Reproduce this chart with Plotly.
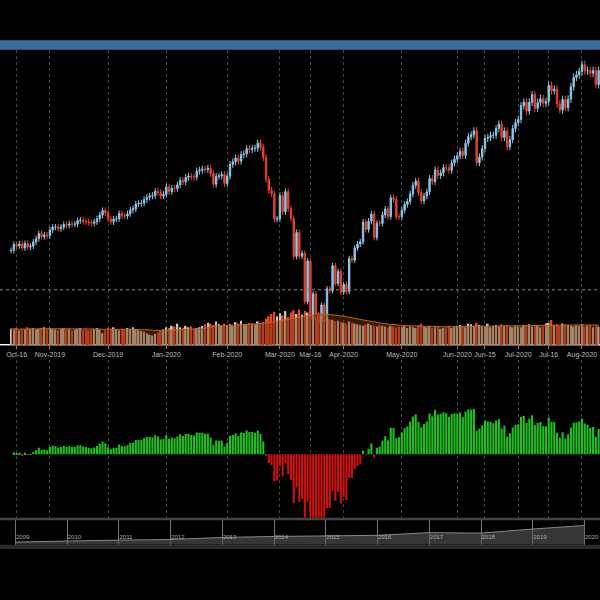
import plotly.graph_objects as go
import pandas as pd
import numpy as np

closes = [8048,8148,8124,8156,8089,8163,8104,8119,8186,8243,8325,8276,8303,8292,
8386,8433,8434,8410,8434,8475,8464,8486,8479,8482,8540,8550,8526,8520,8506,8496,8520,8570,8632,8705,8665,
8567,8520,8566,8570,8656,8621,8616,8654,8717,8734,8814,8823,8827,8887,8924,8945,8952,9022,9006,8945,8973,
9092,9020,9071,9068,9129,9203,9178,9251,9273,9259,9258,9357,9370,9389,9383,9402,9314,9139,9269,9275,9298,9150,
9273,9467,9508,9572,9520,9628,9638,9725,9711,9731,9732,9817,9750,9576,9221,9035,8980,8566,8567,
8952,8684,9018,8738,8575,7950,8344,7952,8003,7201,7875,6904,7334,6989,6879,7150,6860,7417,7384,7797,7502,7700,
7360,7487,7373,7913,7887,8090,8153,8192,8516,8393,8532,8650,8263,8495,8494,8634,8730,8607,8914,8889,8605,
8604,8710,8809,8854,8979,9121,9192,9002,8863,8943,9014,9234,9185,9375,9284,9324,9413,9412,9368,9489,
9552,9608,9682,9616,9814,9924,9953,10020,9493,9588,9726,9895,9910,9943,9946,10056,10131,9909,10017,9757,9874,10058,
10154,10207,10433,10492,10344,10492,10617,10390,10488,10550,10473,10503,10767,10680,10706,10461,10364,10536,10402,10542,10745,
10902,10941,10998,11108,11010,11011,10968,11012,10782,11012]

volumes = [2.2,2.1,2.3,2.0,2.2,2.1,2.4,2.2,2.3,2.1,2.2,2.3,2.4,2.2,
2.3,2.2,2.1,2.0,2.2,2.3,2.1,2.2,2.0,2.1,2.2,2.3,2.1,2.2,2.0,2.1,2.2,2.3,2.1,1.6,2.0,
2.3,2.2,2.4,2.1,2.0,2.2,2.1,2.3,2.2,2.4,2.1,2.0,1.9,1.8,1.6,1.4,1.3,1.5,1.7,2.0,2.1,
2.4,2.3,2.6,2.5,2.9,2.4,2.3,2.6,2.4,2.5,2.2,2.3,2.4,2.6,2.8,3.0,2.9,2.7,3.2,2.8,2.6,2.9,
2.7,2.8,2.6,3.1,2.9,3.3,2.8,2.7,3.0,2.9,2.8,3.2,3.0,3.1,3.6,3.9,4.2,4.5,3.9,
4.3,4.0,4.6,3.8,4.4,4.7,4.2,4.8,4.1,4.6,4.4,4.2,4.0,3.8,4.1,3.9,3.6,3.7,3.5,3.4,3.2,3.3,
3.1,3.0,2.9,3.2,3.0,2.9,2.8,2.7,2.6,2.8,2.9,2.7,2.6,2.5,2.7,2.6,2.5,2.4,2.6,2.5,2.4,
2.5,2.4,2.6,2.3,2.5,2.4,2.3,2.7,2.9,2.5,2.4,2.6,2.3,2.4,2.5,2.2,2.3,2.4,2.6,2.3,
2.5,2.6,2.7,2.5,2.4,2.9,2.8,2.6,3.0,2.7,2.6,2.5,2.9,2.4,2.6,2.7,2.5,2.8,2.6,2.7,2.5,2.4,
2.6,2.5,2.4,2.7,2.6,2.8,2.5,2.7,2.6,2.4,2.5,2.9,3.0,3.4,2.7,2.8,2.6,2.9,2.8,2.7,2.6,
2.5,2.7,2.6,2.8,2.5,2.6,2.7,2.4,2.6,2.5]

nav_years = ["2009","2010","2011","2012","2013","2014","2015","2016","2017","2018","2019","2020"]
nav_values = [1577,2269,2653,3019,4177,4736,5007,5383,6903,6635,8972,11000]

tick_labels = ["Oct-16","Nov-2019","Dec-2019","Jan-2020","Feb-2020","Mar-2020","Mar-16","Apr-2020",
               "May-2020","Jun-2020","Jun-15","Jul-2020","Jul-16","Aug-2020"]
tick_idx = [2, 14, 35, 56, 78, 97, 108, 120, 141, 161, 171, 183, 194, 206]

n = len(closes)
x = np.arange(n)
c = np.array(closes, float)
o = np.r_[c[0], c[:-1]]
hi = np.maximum(o, c) * 1.006
lo = np.minimum(o, c) * 0.994
vol = np.array(volumes[:n] + [2.5] * max(0, n - len(volumes)))
vol_ma = pd.Series(vol).rolling(20, min_periods=1).mean()
osc = c - pd.Series(c).rolling(50, min_periods=1).mean()

fig = go.Figure()
fig.add_trace(go.Scatter(x=x, y=vol_ma, yaxis="y2", mode="lines", fill="tozeroy",
                         line=dict(color="#c0601e", width=1), fillcolor="rgba(120,55,10,0.45)", hoverinfo="skip"))
vcol = ["#e8432d" if c[i] < o[i] else "#c9c4b4" for i in range(n)]
fig.add_trace(go.Bar(x=x, y=vol, yaxis="y2", marker=dict(color=vcol, line_width=0), width=0.6))
fig.add_trace(go.Candlestick(x=x, open=o, high=hi, low=lo, close=c, yaxis="y",
                             increasing=dict(line=dict(color="#8fc8ea", width=1), fillcolor="#8fc8ea"),
                             decreasing=dict(line=dict(color="#e8432d", width=1), fillcolor="#e8432d"),
                             whiskerwidth=0))
fig.add_trace(go.Bar(x=x, y=osc, xaxis="x2", yaxis="y3", width=0.75,
                     marker=dict(color=["#1fc11f" if v >= 0 else "#d01010" for v in osc], line_width=0)))
fig.add_trace(go.Scatter(x=nav_years, y=nav_values, xaxis="x3", yaxis="y4", mode="lines", fill="tozeroy",
                         line=dict(color="#888", width=1), fillcolor="rgba(90,90,90,0.6)"))

grid = dict(showgrid=True, gridcolor="#444", griddash="dot", gridwidth=1)
fig.update_layout(
    width=600, height=600, margin=dict(l=0, r=0, t=0, b=0),
    paper_bgcolor="#000", plot_bgcolor="#000", showlegend=False,
    font=dict(family="Liberation Sans", size=7, color="#bbb"),
    xaxis=dict(domain=[0, 1], range=[-4, n - 0.5], anchor="y", tickvals=tick_idx, ticktext=tick_labels,
               tickangle=0, rangeslider=dict(visible=False), ticks="outside", ticklen=3, tickcolor="#888",
               showline=True, linecolor="#666", **grid),
    yaxis=dict(domain=[0.425, 0.917], range=[6490, 11355], showticklabels=False, showgrid=False, zeroline=False),
    yaxis2=dict(domain=[0.425, 0.917], overlaying="y", range=[0, 40], showticklabels=False, showgrid=False),
    xaxis2=dict(domain=[0, 1], range=[-4, n - 0.5], anchor="y3", tickvals=tick_idx, showticklabels=False, **grid),
    yaxis3=dict(domain=[0.137, 0.40], range=[-1650, 2450], showticklabels=False, showgrid=False,
                zeroline=False),
    xaxis3=dict(domain=[0, 1], anchor="y4", type="category", range=[-0.3, 11.3], showgrid=True, gridcolor="#777",
                tickfont=dict(size=6, color="#aaa"), ticklabelposition="inside right", showline=True, linecolor="#555"),
    yaxis4=dict(domain=[0.092, 0.133], range=[0, 14000], showticklabels=False, showgrid=False),
    bargap=0.2,
)
fig.add_shape(type="rect", xref="paper", yref="paper", x0=0, x1=1, y0=0.917, y1=0.933,
              fillcolor="#3e6d9c", line_width=0)
fig.add_shape(type="line", xref="paper", yref="y", x0=0, x1=1, y0=7400, y1=7400,
              line=dict(color="#888", width=1, dash="dot"))
fig.add_shape(type="rect", xref="paper", yref="paper", x0=0, x1=1, y0=0.133, y1=0.137,
              fillcolor="#444", line_width=0)
fig.add_shape(type="rect", xref="paper", yref="paper", x0=0, x1=1, y0=0.085, y1=0.092,
              fillcolor="#2a2a2a", line_width=0)
fig.write_html("out.html", config={"displayModeBar": False},
               post_script="document.body.style.margin='0';document.body.style.background='#000';")
